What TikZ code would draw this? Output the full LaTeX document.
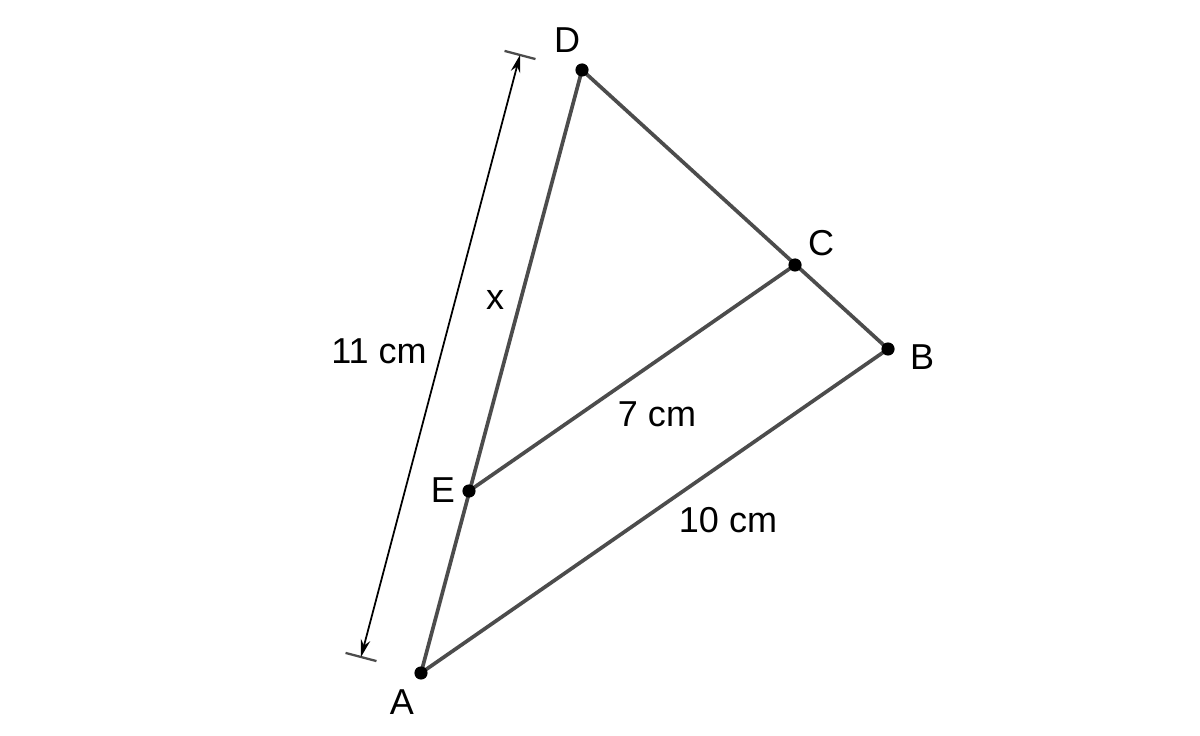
\documentclass[tikz,border=0pt]{standalone}
\usepackage{fontspec}
\setmainfont{Liberation Sans}
\usetikzlibrary{arrows.meta,calc}

\begin{document}
\begin{tikzpicture}[font=\fontsize{20.5}{24}\selectfont]
				\tikzstyle{side}=[draw=black!70,line width=2.1pt]
				\tikzstyle{dot}=[circle,fill=black,minimum size=7.5pt,inner sep=0pt]
				\tikzstyle{tick}=[draw=black!70,line width=1.3pt]
				\tikzstyle{dim}=[draw=black,line width=1pt,{Stealth[length=10pt,width=5.5pt]}-{Stealth[length=10pt,width=5.5pt]}]

				\useasboundingbox (0,0) rectangle (24,14.7);

				% Point positions
				\coordinate (pA) at (8.42,1.24);
				\coordinate (pE) at (9.38,4.88);
				\coordinate (pC) at (15.9,9.4);
				\coordinate (pB) at (17.76,7.72);
				\coordinate (pD) at (11.64,13.3);

				% Sides
				\path[side] (pA) -- (pD) -- (pB) -- cycle;
				\path[side] (pE) -- (pC);

				% Points
				\node[dot] (A) at (pA) {};
				\node[dot] (E) at (pE) {};
				\node[dot] (C) at (pC) {};
				\node[dot] (B) at (pB) {};
				\node[dot] (D) at (pD) {};

				% Point labels
				\node (lA) at (8.04,0.66) {A};
				\node (lE) at (8.86,4.9) {E};
				\node (lC) at (16.42,9.84) {C};
				\node (lB) at (18.44,7.56) {B};
				\node (lD) at (11.34,13.9) {D};

				% Length of AD
				\coordinate (m1) at (7.22,1.56);
				\coordinate (m2) at (10.4,13.6);
				\path[tick] ($(m1)!0.32cm!90:(m2)$) -- ($(m1)!0.32cm!-90:(m2)$);
				\path[tick] ($(m2)!0.32cm!90:(m1)$) -- ($(m2)!0.32cm!-90:(m1)$);
				\path[dim] (m1) -- (m2);

				% Lengths
				\node (lAD) at (7.58,7.68) {11 cm};
				\node (lDE) at (9.9,8.7) {x};
				\node (lEC) at (13.14,6.42) {7 cm};
				\node (lAB) at (14.56,4.3) {10 cm};

			\end{tikzpicture}
\end{document}
